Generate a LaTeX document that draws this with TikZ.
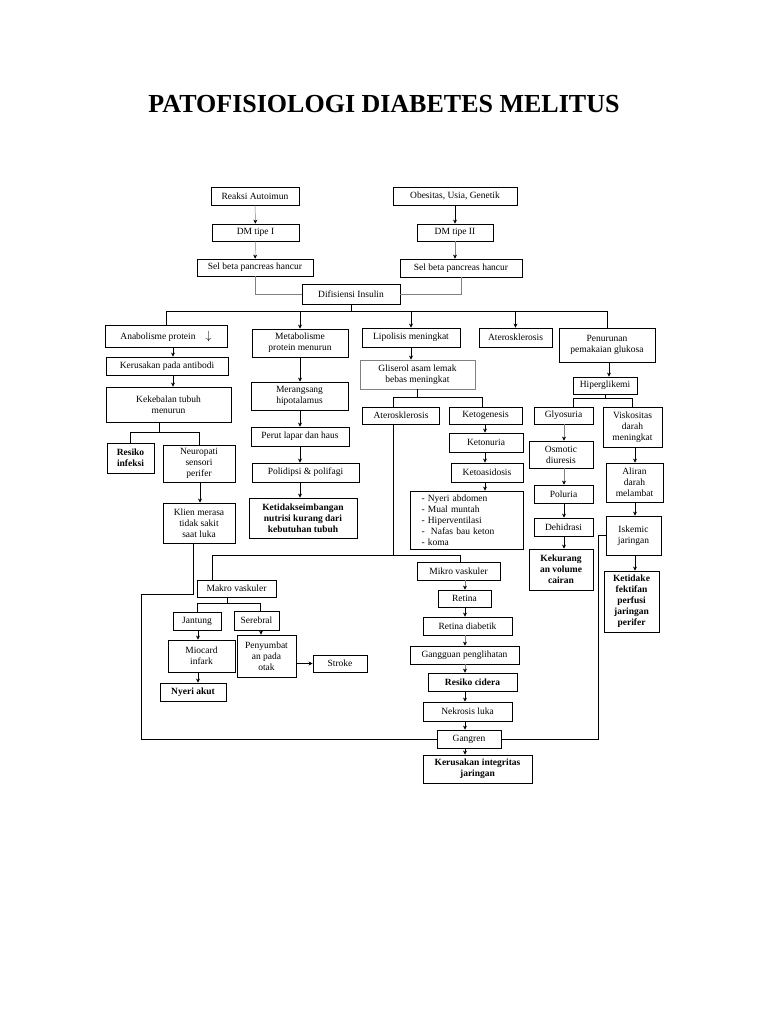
\documentclass[tikz,border=0pt]{standalone}
\usepackage{fontspec}
\setmainfont{Liberation Serif}
\usetikzlibrary{arrows.meta}
\begin{document}
\begin{tikzpicture}[x=1pt,y=-1pt]
		\tikzstyle{box} = [draw, line width=0.8pt, rectangle, align=center, inner sep=0.5pt, font=\fontsize{9.5}{11}\selectfont]
		\tikzstyle{tebal} = [font=\fontsize{9.5}{11}\selectfont\bfseries]
		\tikzstyle{arr} = [line width=0.7pt, -{Stealth[length=4pt,width=4pt]}]
		\tikzstyle{tipis} = [gray, line width=0.5pt, -{Stealth[length=4pt,width=4pt,color=black]}]
		\tikzstyle{garis} = [line width=0.7pt]
		\tikzstyle{garistipis} = [gray, line width=0.5pt]

		\fill[white] (0,0) rectangle (768,1024);
		\useasboundingbox (0,0) rectangle (768,1024);

		% Judul
		\node[font=\fontsize{26}{30}\selectfont\bfseries] (judul) at (384,104) {PATOFISIOLOGI DIABETES MELITUS};

		% Penyebab
		\node[box, minimum width=88, minimum height=18] (ra) at (255,196) {Reaksi Autoimun};
		\node[box, minimum width=124, minimum height=18] (oug) at (455,196) {Obesitas, Usia, Genetik};
		\node[box, minimum width=87, minimum height=17] (dm1) at (255.5,232.5) {DM tipe I};
		\node[box, minimum width=76, minimum height=17] (dm2) at (455,232.5) {DM tipe II};
		\node[box, minimum width=116, minimum height=17] (sb1) at (255,267.5) {Sel beta pancreas hancur};
		\node[box, minimum width=122, minimum height=18] (sb2) at (461,268) {Sel beta pancreas hancur};
		\node[box, minimum width=98, minimum height=20] (di) at (351,294) {Difisiensi Insulin};

		% Baris utama
		\node[box, minimum width=122, minimum height=22] (ana) at (166,336) {Anabolisme protein\hspace{10pt}{\fontsize{12}{12}\selectfont$\downarrow$}};
		\node[box, minimum width=96, minimum height=28] (met) at (300,343) {Metabolisme\\protein menurun};
		\node[box, minimum width=98, minimum height=19] (lip) at (411,337.5) {Lipolisis meningkat};
		\node[box, minimum width=73, minimum height=19] (ate1) at (515.5,337.5) {Aterosklerosis};
		\node[box, minimum width=96, minimum height=34] (pen) at (607,345) {Penurunan\\pemakaian glukosa};

		% Kolom kiri
		\node[box, minimum width=122, minimum height=18] (ker) at (167,366) {Kerusakan pada antibodi};
		\node[box, minimum width=125, minimum height=35] (kek) at (168.5,404.5) {Kekebalan tubuh\\menurun};
		\node[box, tebal, minimum width=47, minimum height=30] (res) at (130.5,458) {Resiko\\infeksi};
		\node[box, minimum width=72, minimum height=37] (neu) at (199,463.5) {Neuropati\\sensori\\perifer};
		\node[box, minimum width=72, minimum height=40] (kli) at (199,523) {Klien merasa\\tidak sakit\\saat luka};

		% Kolom tengah
		\node[box, minimum width=97, minimum height=28] (mer) at (299.5,396) {Merangsang\\hipotalamus};
		\node[box, minimum width=98, minimum height=19] (per) at (300,436.5) {Perut lapar dan haus};
		\node[box, minimum width=107, minimum height=19] (pol) at (305.5,472.5) {Polidipsi \& polifagi};
		\node[box, tebal, minimum width=108, minimum height=40] (kts) at (303,518) {Ketidakseimbangan\\nutrisi kurang dari\\kebutuhan tubuh};

		% Lipolisis
		\node[box, draw=gray, minimum width=115, minimum height=29] (gli) at (417.5,374.5) {Gliserol asam lemak\\bebas meningkat};
		\node[box, minimum width=77, minimum height=17] (ate2) at (401,415.5) {Aterosklerosis};
		\node[box, minimum width=73, minimum height=17] (ketg) at (485.5,415.5) {Ketogenesis};
		\node[box, minimum width=74, minimum height=19] (keton) at (486,442.5) {Ketonuria};
		\node[box, minimum width=72, minimum height=19] (keto) at (487,472.5) {Ketoasidosis};
		\node[box, minimum width=113, minimum height=58, text width=90, align=left] (lst) at (466.5,520) {- Nyeri abdomen\\- Mual muntah\\- Hiperventilasi\\-\ \ Nafas bau keton\\- koma};

		% Kolom kanan
		\node[box, minimum width=64, minimum height=17] (hip) at (605,385.5) {Hiperglikemi};
		\node[box, minimum width=59, minimum height=17] (gly) at (563.5,415.5) {Glyosuria};
		\node[box, minimum width=59, minimum height=40] (vis) at (632.5,427) {Viskositas\\darah\\meningkat};
		\node[box, minimum width=64, minimum height=27] (osm) at (561,454.5) {Osmotic\\diuresis};
		\node[box, minimum width=57, minimum height=39] (ali) at (634.5,482.5) {Aliran\\darah\\melambat};
		\node[box, minimum width=59, minimum height=18] (plu) at (563.5,494) {Poluria};
		\node[box, minimum width=59, minimum height=18] (deh) at (563.5,527) {Dehidrasi};
		\node[box, minimum width=55, minimum height=39] (isk) at (633.5,535.5) {Iskemic\\jaringan};
		\node[box, tebal, minimum width=64, minimum height=41] (kvc) at (561,569.5) {Kekurang\\an volume\\cairan};
		\node[box, tebal, minimum width=55, minimum height=61] (tdk) at (631.5,601.5) {Ketidake\\fektifan\\perfusi\\jaringan\\perifer};

		% Makro vaskuler
		\node[box, minimum width=79, minimum height=17] (mak) at (236.5,588.5) {Makro vaskuler};
		\node[box, minimum width=48, minimum height=18] (jan) at (197,621) {Jantung};
		\node[box, minimum width=45, minimum height=19] (ser) at (256.5,620.5) {Serebral};
		\node[box, minimum width=67, minimum height=32] (mio) at (201.5,656) {Miocard\\infark};
		\node[box, minimum width=59, minimum height=42] (pny) at (266.5,656) {Penyumbat\\an pada\\otak};
		\node[box, minimum width=54, minimum height=17] (str) at (340,663.5) {Stroke};
		\node[box, tebal, minimum width=66, minimum height=18] (nya) at (193,692) {Nyeri akut};

		% Mikro vaskuler
		\node[box, minimum width=83, minimum height=18] (mik) at (458.5,571) {Mikro vaskuler};
		\node[box, minimum width=53, minimum height=17] (ret) at (464.5,598.5) {Retina};
		\node[box, minimum width=89, minimum height=18] (rd) at (467.5,626) {Retina diabetik};
		\node[box, minimum width=109, minimum height=18] (gg) at (464.5,655) {Gangguan penglihatan};
		\node[box, tebal, minimum width=89, minimum height=18] (rc) at (472.5,682) {Resiko cidera};
		\node[box, minimum width=89, minimum height=19] (nek) at (467.5,711.5) {Nekrosis luka};
		\node[box, minimum width=64, minimum height=18] (gan) at (469,739) {Gangren};
		\node[box, tebal, minimum width=109, minimum height=28] (kij) at (477.5,769) {Kerusakan integritas\\jaringan};

		% Garis bantu kolom
		\coordinate (kA) at (173,0);
		\coordinate (kB) at (200,0);
		\coordinate (kC) at (300,0);
		\coordinate (kD) at (485,0);
		\coordinate (kE) at (198,0);
		\coordinate (kF) at (261,0);
		\coordinate (kG) at (609,0);
		\coordinate (kH) at (564,0);
		\coordinate (kI) at (635,0);
		\coordinate (kM) at (465,0);

		% Penyebab ke difisiensi
		\draw[tipis] (ra) -- (dm1);
		\draw[tipis] (dm1) -- (sb1);
		\draw[arr] (oug) -- (dm2);
		\draw[tipis] (dm2.south) -- (sb2.north -| dm2);
		\draw[garistipis] (sb1.south) |- (di.west);
		\draw[garistipis] (sb2.south) |- (di.east);

		% Percabangan difisiensi insulin
		\draw[garis] (di.south) -- ++(0,7) coordinate (t1);
		\draw[garis] (ana.north) |- (t1) -| (pen.north);
		\draw[arr] (t1 -| met) -- (met.north);
		\draw[arr] (t1 -| lip) -- (lip.north);
		\draw[arr] (t1 -| ate1) -- (ate1.north);

		% Kolom kiri
		\draw[arr] (ana.south -| kA) -- (ker.north -| kA);
		\draw[arr] (ker.south -| kA) -- (kek.north -| kA);
		\draw[garis] ([xshift=-9]kek.south) -- ++(0,10) coordinate (t2);
		\draw[garis] (res.north) |- (t2) -| (neu.north);
		\draw[arr] (neu.south -| kB) -- (kli.north -| kB);
		\draw[garis] ([xshift=-6]kli.south) -- ++(0,51) -- ++(-52,0) |- (gan.west);

		% Kolom tengah
		\draw[arr] (met.south -| kC) -- (mer.north -| kC);
		\draw[arr] (mer.south -| kC) -- (per.north -| kC);
		\draw[arr] (per.south -| kC) -- (pol.north -| kC);
		\draw[arr] (pol.south -| kC) -- (kts.north -| kC);

		% Lipolisis
		\draw[arr] (lip.south) -- (gli.north -| lip);
		\draw[garis] (gli.south) -- ++(0,8) coordinate (t3);
		\draw[garis] ([xshift=-8]ate2.north) |- (t3) -| ([xshift=-3]ketg.north);
		\draw[arr] (ketg.south -| kD) -- (keton.north -| kD);
		\draw[arr] (keton.south -| kD) -- (keto.north -| kD);
		\draw[arr] (keto.south -| kD) -- (lst.north -| kD);
		\draw[garis] ([xshift=-8]ate2.south) -- ++(0,131) coordinate (t4);
		\draw[garis] ([xshift=-24]mak.north) |- (t4) -| ([xshift=2]mik.north);

		% Makro vaskuler
		\draw[garis] ([xshift=-9]mak.south) -- ++(0,6) coordinate (t5);
		\draw[garis] (jan.north) |- (t5) -| ([xshift=4]ser.north);
		\draw[arr] (jan.south -| kE) -- (mio.north -| kE);
		\draw[arr] (mio.south -| kE) -- (nya.north -| kE);
		\draw[arr] (ser.south -| kF) -- (pny.north -| kF);
		\draw[arr] (pny.east |- str) -- (str.west);

		% Mikro vaskuler
		\draw[tipis] (mik.south -| kM) -- (ret.north -| kM);
		\draw[arr] (ret.south -| kM) -- (rd.north -| kM);
		\draw[tipis] (rd.south -| kM) -- (gg.north -| kM);
		\draw[tipis] (gg.south -| kM) -- (rc.north -| kM);
		\draw[arr] (rc.south -| kM) -- (nek.north -| kM);
		\draw[arr] (nek.south -| kM) -- (gan.north -| kM);
		\draw[arr] (gan.south -| kM) -- (kij.north -| kM);

		% Kolom kanan
		\draw[arr] (pen.south -| kG) -- (hip.north -| kG);
		\draw[garis] (hip.south) -- ++(0,4) coordinate (t6);
		\draw[garis] ([xshift=10]gly.north) |- (t6) -| (vis.north);
		\draw[tipis] (gly.south -| kH) -- (osm.north -| kH);
		\draw[tipis] (osm.south -| kH) -- (plu.north -| kH);
		\draw[arr] (plu.south -| kH) -- (deh.north -| kH);
		\draw[arr] (deh.south -| kH) -- (kvc.north -| kH);
		\draw[arr] (vis.south -| kI) -- (ali.north -| kI);
		\draw[arr] (ali.south -| kI) -- (isk.north -| kI);
		\draw[arr] (isk.south -| kI) -- (tdk.north -| kI);
		\draw[garis] (isk.west) -- ++(-7,0) |- (gan.east);

		\end{tikzpicture}
\end{document}
